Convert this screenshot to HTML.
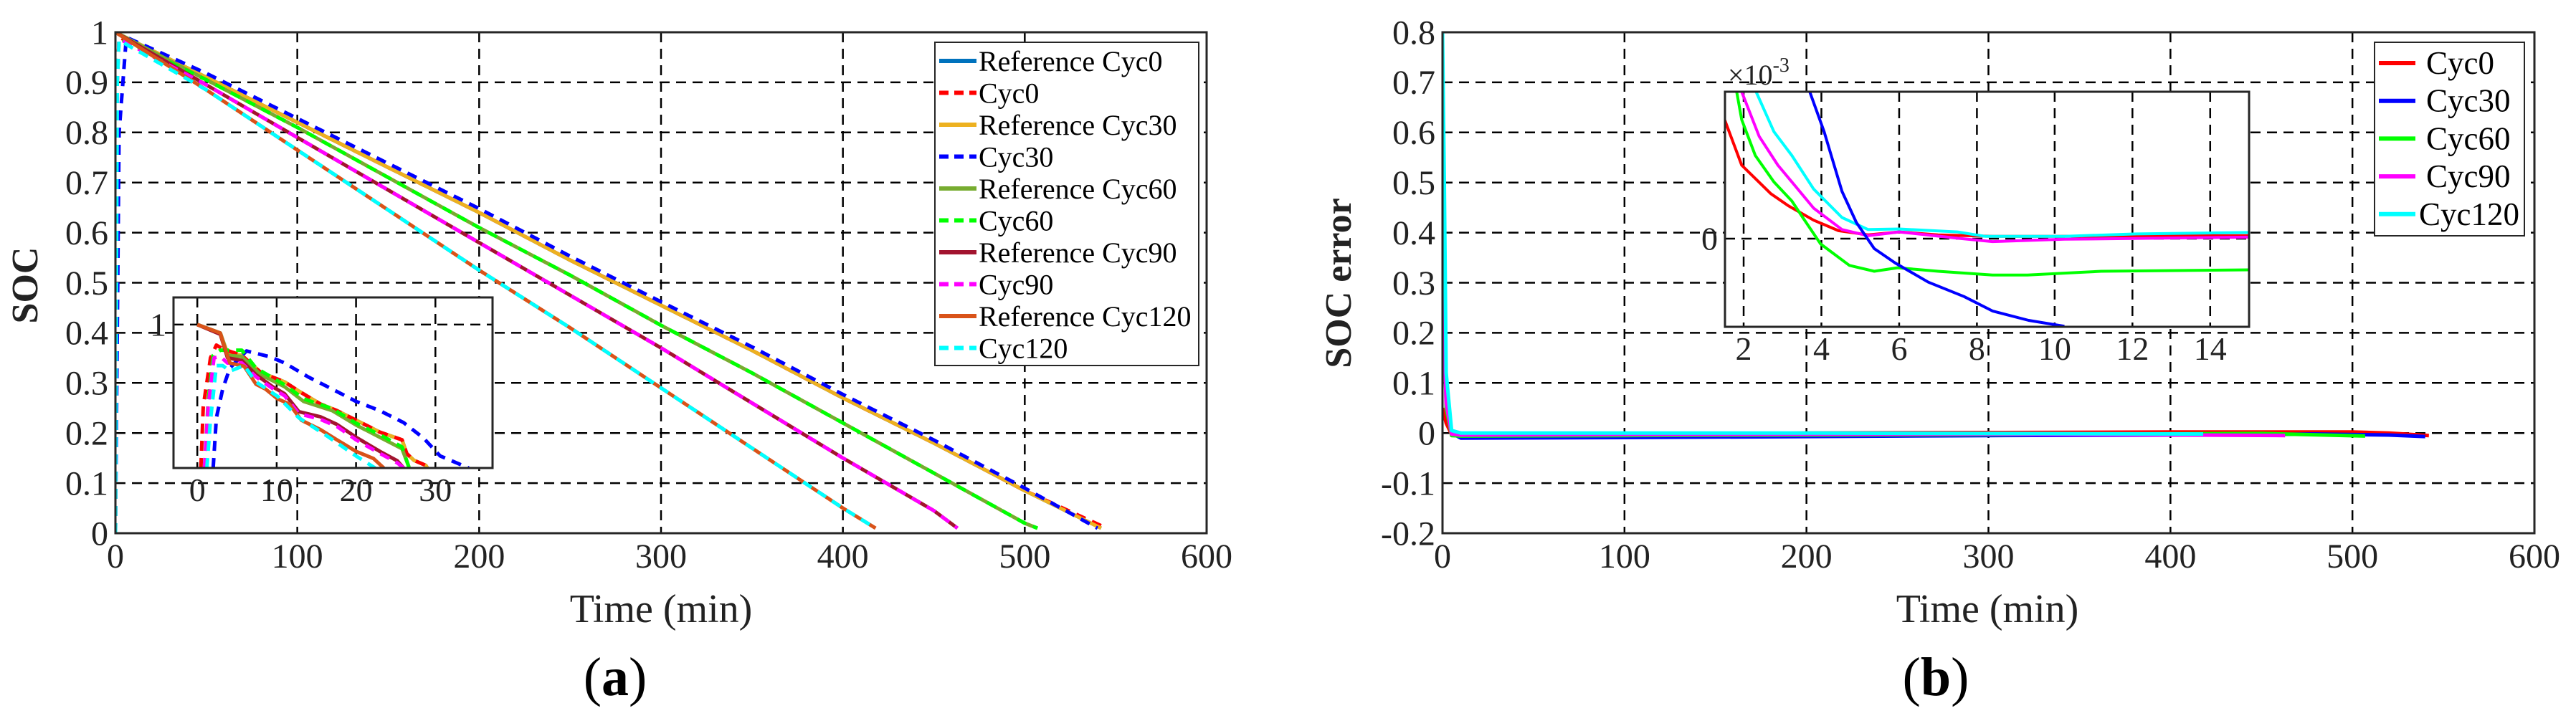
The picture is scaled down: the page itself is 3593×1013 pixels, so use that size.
<!DOCTYPE html>
<html><head><meta charset="utf-8"><style>
html,body{margin:0;padding:0;background:#fff;}
svg{display:block;font-family:"Liberation Serif",serif;}
</style></head><body>
<svg id="fig" width="3593" height="1013" viewBox="0 0 3593 1013" xmlns="http://www.w3.org/2000/svg">
<defs>
<clipPath id="clipA"><rect x="161" y="45" width="1522" height="699"/></clipPath>
<clipPath id="clipAI"><rect x="242" y="415" width="445" height="238"/></clipPath>
<clipPath id="clipB"><rect x="2012" y="45" width="1523" height="699"/></clipPath>
<clipPath id="clipBI"><rect x="2406" y="128" width="731" height="328"/></clipPath>
</defs>
<g id="chartA"></g>
<g id="chartB"></g>
</svg>
<script>
// ===== Chart (a) data: SOC vs time (min) =====
const aT0 = [0,50,100,150,200,250,300,350,400,450,500,542];
const aRefCyc0 = [1,0.91,0.82,0.73,0.64,0.545,0.455,0.365,0.27,0.18,0.085,0.01];
const aEstCyc0T = [0,1,2,50,100,150,200,250,300,350,400,450,500,542];
const aEstCyc0 = [0,0.9,0.99,0.91,0.82,0.73,0.64,0.545,0.455,0.365,0.27,0.18,0.085,0.015];
const aRefCyc30 = [1,0.91,0.82,0.73,0.64,0.545,0.455,0.365,0.27,0.18,0.085,0.01];
const aEstCyc30T = [0,2,6,50,100,150,200,250,300,350,400,450,500,540];
const aEstCyc30 = [0,0.8,0.99,0.918,0.828,0.738,0.648,0.553,0.462,0.372,0.277,0.186,0.09,0.01];
const aT60 = [0,50,100,150,200,250,300,350,400,450,500,507];
const aRefCyc60 = [1,0.905,0.81,0.71,0.61,0.515,0.415,0.32,0.22,0.12,0.02,0.01];
const aEstCyc60T = [0,1,2,50,100,150,200,250,300,350,400,450,500,507];
const aEstCyc60 = [0,0.9,0.988,0.905,0.81,0.71,0.61,0.515,0.415,0.32,0.22,0.12,0.02,0.01];
const aT90 = [0,50,100,150,200,250,300,350,400,450,463];
const aRefCyc90 = [1,0.895,0.79,0.685,0.58,0.475,0.37,0.26,0.15,0.045,0.01];
const aEstCyc90T = [0,1,2,50,100,150,200,250,300,350,400,450,463];
const aEstCyc90 = [0,0.9,0.987,0.895,0.79,0.685,0.58,0.475,0.37,0.26,0.15,0.045,0.01];
const aT120 = [0,50,100,150,200,250,300,350,400,418];
const aRefCyc120 = [1,0.885,0.765,0.645,0.525,0.41,0.29,0.17,0.05,0.01];
const aEstCyc120T = [0,1,2,50,100,150,200,250,300,350,400,418];
const aEstCyc120 = [0,0.9,0.984,0.885,0.765,0.645,0.525,0.41,0.29,0.17,0.05,0.01];
// inset (a) detail, first ~35 min
const iRef0T = [0,2.9,3.8,5.6,8,11,12.8,15.5,17.6,20,23,25.8,26.4,27.3,28.8,29];
const iRef0 = [1,0.9967,0.9888,0.988,0.9813,0.9776,0.974,0.969,0.9664,0.9627,0.958,0.955,0.9496,0.947,0.945,0.944];
const iEst0T = [0.45,0.75,1.66,2.4,3.2,5.6,8,11,12.8,15.5,17.6,20,23,25.8,26.4,27.3,28.8,29];
const iEst0 = [0.944,0.968,0.987,0.992,0.9905,0.988,0.9813,0.9776,0.974,0.969,0.9664,0.9627,0.958,0.955,0.9496,0.947,0.945,0.944];
const iEst30T = [2,2.4,3.2,4.1,6.2,9.2,11,14,17,20,23,26,28.5,30.6,34.2];
const iEst30 = [0.944,0.9636,0.9748,0.983,0.9897,0.9874,0.985,0.9795,0.9748,0.97,0.9664,0.9617,0.9557,0.9487,0.944];
const iRef60T = [0,2.9,3.8,5.6,8,11,13.4,17,20,23,25.8,26.7];
const iRef60 = [1,0.9967,0.988,0.9875,0.9804,0.9757,0.97,0.9664,0.9608,0.956,0.9515,0.944];
const iEst60T = [0.9,1.36,2,2.9,5.6,7.4,11,13.4,17,20,23,25.8,26.7];
const iEst60 = [0.944,0.97,0.988,0.99,0.99,0.983,0.9765,0.971,0.9672,0.9615,0.957,0.9522,0.944];
const iRef90T = [0,2.9,3.8,5.6,7.4,9.5,11,12.8,15.5,17.6,20,23,25.2,26];
const iRef90 = [1,0.9962,0.987,0.986,0.9804,0.9757,0.973,0.966,0.964,0.961,0.956,0.9505,0.9468,0.944];
const iEst90T = [0.9,1.36,2.1,2.9,3.8,5.6,7.4,9.5,11,12.8,15.5,17.6,20,23,25.2,26];
const iEst90 = [0.944,0.968,0.987,0.9875,0.985,0.985,0.9796,0.975,0.9722,0.9652,0.963,0.9602,0.955,0.9497,0.946,0.944];
const iRef120T = [0,2.9,3.3,4.1,5.9,7.4,8.6,10.1,11.6,13.1,15.5,17.6,20,22.2,23.5];
const iRef120 = [1,0.9967,0.9925,0.985,0.9837,0.9767,0.9748,0.971,0.969,0.9627,0.959,0.955,0.9505,0.9477,0.944];
const iEst120T = [1.2,1.66,2.4,3.2,4.1,5.9,7.4,10.1,12.8,16.1,20,22.4];
const iEst120 = [0.944,0.9627,0.984,0.984,0.9818,0.984,0.9776,0.972,0.9636,0.957,0.9487,0.944];
const aXTicks = [0,100,200,300,400,500,600];
const aYTicks = [0,0.1,0.2,0.3,0.4,0.5,0.6,0.7,0.8,0.9,1];
const aYTickLabels = ["0","0.1","0.2","0.3","0.4","0.5","0.6","0.7","0.8","0.9","1"];
const aInsetXTicks = [0,10,20,30];
const aInsetYTicks = [1];

// ===== Chart (b) data: SOC error vs time =====
const bCyc0T = [0,2,5,10,100,200,300,400,500,520,542];
const bCyc0 = [0.05,0.02,-0.003,-0.005,-0.004,0.0,0.001,0.002,0.002,0.0,-0.005];
const bCyc30T = [0,1,2,5,10,100,200,300,400,480,520,540];
const bCyc30 = [0.42,0.25,0.1,0.0,-0.01,-0.009,-0.007,-0.005,-0.004,-0.002,-0.004,-0.007];
const bCyc60T = [0,2,5,10,100,300,450,507];
const bCyc60 = [0.35,0.05,-0.005,-0.006,-0.005,-0.003,-0.001,-0.006];
const bCyc90T = [0,2,5,10,100,300,463];
const bCyc90 = [0.3,0.06,-0.002,-0.004,-0.003,-0.002,-0.005];
const bCyc120T = [0,1,2,5,10,200,418];
const bCyc120 = [0.8,0.5,0.12,0.005,0.0,0.0,-0.002];
// inset (b) detail, units 1e-3
const ib0T = [1.51,1.95,2.7,3.15,3.8,4.44,5.2,6,7,8.4,10,15];
const ib0 = [4.05,2.5,1.53,1.12,0.63,0.27,0.13,0.23,0.13,0.08,0.08,0.1];
const ib30T = [3.7,4.07,4.53,4.9,5.36,5.9,6.75,7.67,8.4,9.33,10.25];
const ib30 = [5,3.64,1.61,0.55,-0.34,-0.83,-1.48,-1.97,-2.46,-2.78,-2.98];
const ib60T = [1.82,1.95,2.3,2.78,3.24,3.52,3.98,4.72,5.36,5.96,7,8.4,9.3,11.2,15];
const ib60 = [5,4.05,2.83,1.93,1.28,0.72,-0.18,-0.91,-1.11,-0.99,-1.11,-1.24,-1.24,-1.11,-1.06];
const ib90T = [1.95,2.4,2.88,3.24,3.8,4.53,5.2,6,7.48,8.4,10.25,15];
const ib90 = [5,3.48,2.5,1.93,1.04,0.31,0.1,0.23,0.02,-0.1,-0.02,0.05];
const ib120T = [2.32,2.78,3.24,3.8,4.53,5.2,6,7.5,8.2,10.25,12.1,15];
const ib120 = [5,3.64,2.83,1.69,0.72,0.31,0.33,0.23,0.08,0.08,0.16,0.21];
const bXTicks = [0,100,200,300,400,500,600];
const bYTicks = [-0.2,-0.1,0,0.1,0.2,0.3,0.4,0.5,0.6,0.7,0.8];
const bYTickLabels = ["-0.2","-0.1","0","0.1","0.2","0.3","0.4","0.5","0.6","0.7","0.8"];
const bInsetXTicks = [2,4,6,8,10,12,14];
const bInsetYTicks = [0];

const NS = "http://www.w3.org/2000/svg";
function el(tag, attrs, parent){
  const e = document.createElementNS(NS, tag);
  for (const k in attrs) e.setAttribute(k, attrs[k]);
  parent.appendChild(e);
  return e;
}
function scale(d0,d1,p0,p1){ return v => p0 + (v-d0)/(d1-d0)*(p1-p0); }
function pathD(xs, ys, sx, sy){
  return xs.map((x,i)=>(i?"L":"M")+sx(x).toFixed(1)+","+sy(ys[i]).toFixed(1)).join("");
}
function drawAxes(g, box, sx, sy, xt, yt, ylabels, fs, grid){
  const bg = el("rect",{x:box.x,y:box.y,width:box.w,height:box.h,fill:"#fff",stroke:"none"},g);
  
  
  if (grid){
    xt.forEach(v=>{ const X=sx(v); if (X>box.x+2 && X<box.x+box.w-2){
      const l = el("line",{x1:X,x2:X,y1:box.y,y2:box.y+box.h,stroke:"#000","stroke-width":2.5,"stroke-dasharray":"14,9"},g);
      
      
    }});
    yt.forEach(v=>{ const Y=sy(v); if (Y>box.y+2 && Y<box.y+box.h-2){
      const l = el("line",{x1:box.x,x2:box.x+box.w,y1:Y,y2:Y,stroke:"#000","stroke-width":2.5,"stroke-dasharray":"14,9"},g);
      
      
    }});
  }
  xt.forEach(v=>{ const X=sx(v);
    const t = el("text",{x:X,y:box.y+box.h+fs*1.0,"font-size":fs,"text-anchor":"middle",fill:"#222"},g);
    t.textContent = String(v);
    
    
  });
  yt.forEach((v,i)=>{ const Y=sy(v);
    const t = el("text",{x:box.x-10,y:Y+fs*0.34,"font-size":fs,"text-anchor":"end",fill:"#222"},g);
    t.textContent = ylabels[i];
    
    
  });
}
function frame(g, box){
  const f = el("rect",{x:box.x,y:box.y,width:box.w,height:box.h,fill:"none",stroke:"#262626","stroke-width":3},g);
  
  
}
function series(g, xs, ys, sx, sy, color, dashed, w, name, clip){
  const p = el("path",{d:pathD(xs,ys,sx,sy),fill:"none",stroke:color,"stroke-width":w,"stroke-linejoin":"round","clip-path":"url(#"+clip+")"},g);
  if (dashed) p.setAttribute("stroke-dasharray","14,10");
  
  
}

// ===== Chart A =====
(function(){
  const g = document.getElementById("chartA");
  const box = {x:161,y:45,w:1522,h:699};
  const sx = scale(0,600,box.x,box.x+box.w), sy = scale(0,1,box.y+box.h,box.y);
  drawAxes(g, box, sx, sy, aXTicks, aYTicks, aYTickLabels, 48, true);
  const S = [
    [aT0,aRefCyc0,"#0072BD",false,"line-reference-cyc0"],
    [aEstCyc0T,aEstCyc0,"#ff0000",true,"line-cyc0"],
    [aT0,aRefCyc30,"#EDB120",false,"line-reference-cyc30"],
    [aEstCyc30T,aEstCyc30,"#0000ff",true,"line-cyc30"],
    [aT60,aRefCyc60,"#77AC30",false,"line-reference-cyc60"],
    [aEstCyc60T,aEstCyc60,"#00ff00",true,"line-cyc60"],
    [aT90,aRefCyc90,"#A2142F",false,"line-reference-cyc90"],
    [aEstCyc90T,aEstCyc90,"#ff00ff",true,"line-cyc90"],
    [aT120,aRefCyc120,"#D95319",false,"line-reference-cyc120"],
    [aEstCyc120T,aEstCyc120,"#00ffff",true,"line-cyc120"]];
  S.forEach(s=>series(g,s[0],s[1],sx,sy,s[2],s[3],5,s[4],"clipA"));
  frame(g, box);
  const ib = {x:242,y:415,w:445,h:238};
  const ig = el("g",{},g);
  
  
  const isx = scale(-3,37.2,ib.x,ib.x+ib.w), isy = scale(0.944,1.0106,ib.y+ib.h,ib.y);
  drawAxes(ig, ib, isx, isy, aInsetXTicks, aInsetYTicks, ["1"], 46, true);
  const IS = [
    [iRef0T,iRef0,"#0072BD",false,"inset-reference-cyc0"],
    [iRef0T,iRef0,"#EDB120",false,"inset-reference-cyc30"],
    [iEst0T,iEst0,"#ff0000",true,"inset-cyc0"],
    [iEst30T,iEst30,"#0000ff",true,"inset-cyc30"],
    [iRef60T,iRef60,"#77AC30",false,"inset-reference-cyc60"],
    [iEst60T,iEst60,"#00ff00",true,"inset-cyc60"],
    [iRef90T,iRef90,"#A2142F",false,"inset-reference-cyc90"],
    [iEst90T,iEst90,"#ff00ff",true,"inset-cyc90"],
    [iRef120T,iRef120,"#D95319",false,"inset-reference-cyc120"],
    [iEst120T,iEst120,"#00ffff",true,"inset-cyc120"]];
  IS.forEach(s=>series(ig,s[0],s[1],isx,isy,s[2],s[3],5,s[4],"clipAI"));
  frame(ig, ib);
  const lg = el("g",{},g);
  
  
  const lr = el("rect",{x:1304,y:59,width:368,height:451,fill:"#fff",stroke:"#262626","stroke-width":2},lg);
  
  
  const labels = ["Reference Cyc0","Cyc0"," Reference Cyc30"," Cyc30"," Reference Cyc60","Cyc60"," Reference Cyc90","Cyc90"," Reference Cyc120","Cyc120"];
  S.forEach((s,i)=>{
    const y = 85 + i*44.5;
    const l = el("line",{x1:1310,x2:1362,y1:y,y2:y,stroke:s[2],"stroke-width":6},lg);
    if (s[3]) l.setAttribute("stroke-dasharray","13,8");
    
    
    const t = el("text",{x:1365,y:y+14,"font-size":40,fill:"#000","xml:space":"preserve"},lg);
    t.textContent = labels[i];
    
    
  });
  const xl = el("text",{x:922,y:868,"font-size":56,"text-anchor":"middle",fill:"#222"},g);
  xl.textContent = "Time (min)";
  
  
  const yl = el("text",{x:0,y:0,"font-size":52,"font-weight":"bold","text-anchor":"middle",fill:"#222",transform:"translate(52,398) rotate(-90)"},g);
  yl.textContent = "SOC";
  
  
  const cap = el("text",{x:858,y:970,"font-size":76,"text-anchor":"middle",fill:"#000"},g);
  cap.innerHTML = '(<tspan font-weight="bold">a</tspan>)';
  
  
})();

// ===== Chart B =====
(function(){
  const g = document.getElementById("chartB");
  const box = {x:2012,y:45,w:1523,h:699};
  const sx = scale(0,600,box.x,box.x+box.w), sy = scale(-0.2,0.8,box.y+box.h,box.y);
  drawAxes(g, box, sx, sy, bXTicks, bYTicks, bYTickLabels, 48, true);
  const S = [
    [bCyc0T,bCyc0,"#ff0000","line-cyc0"],
    [bCyc30T,bCyc30,"#0000ff","line-cyc30"],
    [bCyc60T,bCyc60,"#00ff00","line-cyc60"],
    [bCyc90T,bCyc90,"#ff00ff","line-cyc90"],
    [bCyc120T,bCyc120,"#00ffff","line-cyc120"]];
  S.forEach(s=>series(g,s[0],s[1],sx,sy,s[2],false,5,s[3],"clipB"));
  frame(g, box);
  const ib = {x:2406,y:128,w:731,h:328};
  const ig = el("g",{},g);
  
  
  const isx = scale(1.52,15.0,ib.x,ib.x+ib.w), isy = scale(-3,5,ib.y+ib.h,ib.y);
  drawAxes(ig, ib, isx, isy, bInsetXTicks, bInsetYTicks, ["0"], 46, true);
  const IS = [
    [ib0T,ib0,"#ff0000","inset-cyc0"],
    [ib60T,ib60,"#00ff00","inset-cyc60"],
    [ib90T,ib90,"#ff00ff","inset-cyc90"],
    [ib120T,ib120,"#00ffff","inset-cyc120"],
    [ib30T,ib30,"#0000ff","inset-cyc30"]];
  IS.forEach(s=>series(ig,s[0],s[1],isx,isy,s[2],false,4,s[3],"clipBI"));
  frame(ig, ib);
  const ex = el("text",{x:2410,y:118,"font-size":40,fill:"#222"},ig);
  ex.innerHTML = '×10<tspan dy="-18" font-size="28">-3</tspan>';
  
  
  const lg = el("g",{},g);
  
  
  const lr = el("rect",{x:3312,y:59,width:209,height:270,fill:"#fff",stroke:"#262626","stroke-width":2},lg);
  
  
  const labels = ["Cyc0","Cyc30","Cyc60","Cyc90","Cyc120"];
  S.forEach((s,i)=>{
    const y = 88 + i*52.7;
    const l = el("line",{x1:3318,x2:3369,y1:y,y2:y,stroke:s[2],"stroke-width":6},lg);
    
    
    const t = el("text",{x:i===4?3374:3384,y:y+15,"font-size":45,fill:"#000"},lg);
    t.textContent = labels[i];
    
    
  });
  const xl = el("text",{x:2772,y:868,"font-size":56,"text-anchor":"middle",fill:"#222"},g);
  xl.textContent = "Time (min)";
  
  
  const yl = el("text",{x:0,y:0,"font-size":52,"font-weight":"bold","text-anchor":"middle",fill:"#222",transform:"translate(1884,395) rotate(-90)"},g);
  yl.textContent = "SOC error";
  
  
  const cap = el("text",{x:2700,y:970,"font-size":76,"text-anchor":"middle",fill:"#000"},g);
  cap.innerHTML = '(<tspan font-weight="bold">b</tspan>)';
  
  
})();
</script>
</body></html>
